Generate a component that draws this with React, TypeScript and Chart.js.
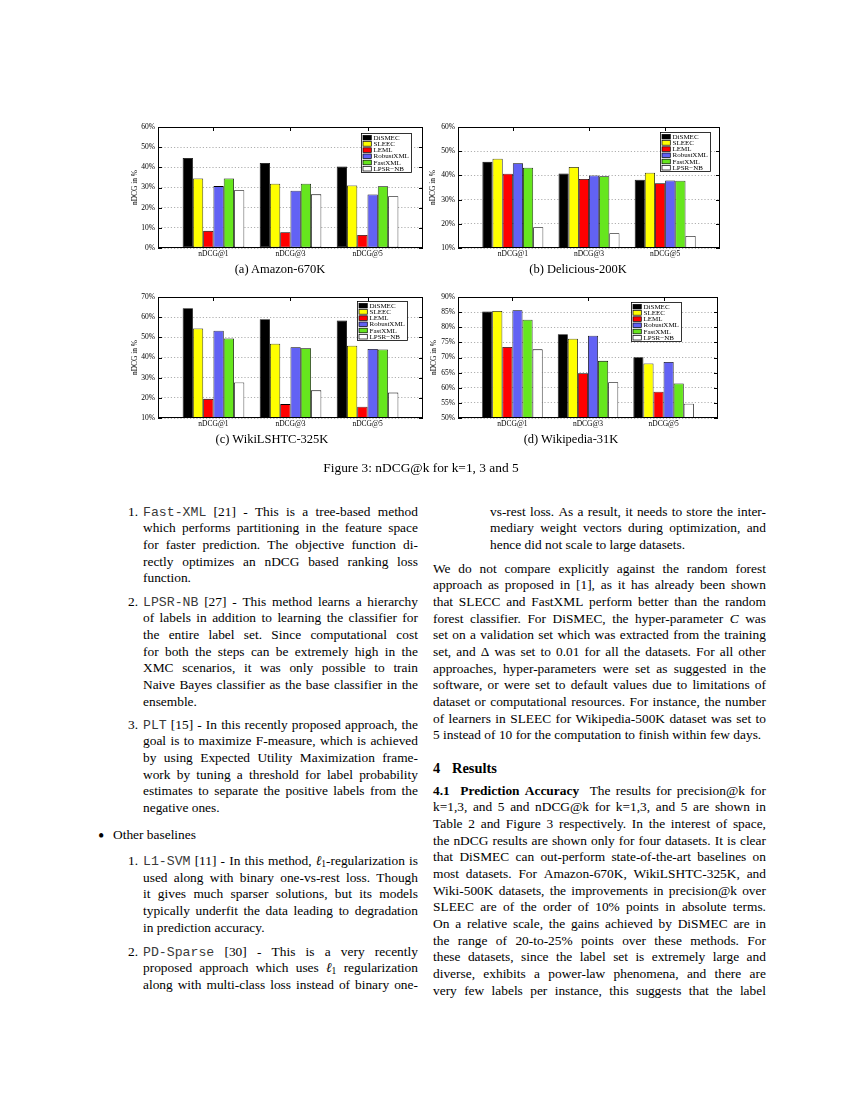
import React, { useEffect, useRef } from "react";
import { Chart, registerables } from "chart.js";

Chart.register(...registerables);

const SERIF = '"Liberation Serif", "Times New Roman", serif';
Chart.defaults.font.family = SERIF;
Chart.defaults.color = "#000";

// ---------- data ----------
const METHODS = ["DiSMEC", "SLEEC", "LEML", "RobustXML", "FastXML", "LPSR\u2212NB"];
const COLORS = ["#000000", "#ffff00", "#ff0000", "#6262f4", "#66e61e", "#ffffff"];
const CATEGORIES = ["nDCG@1", "nDCG@3", "nDCG@5"];

// rows follow METHODS order, columns follow CATEGORIES
const AMAZON_670K = [
  [44.6, 42.2, 40.4],
  [34.5, 31.9, 31.0],
  [8.5, 7.8, 6.5],
  [30.7, 28.4, 26.5],
  [34.5, 31.9, 30.6],
  [28.6, 26.6, 25.7],
];
const DELICIOUS_200K = [
  [45.6, 40.8, 38.2],
  [46.9, 43.5, 41.1],
  [40.7, 38.5, 36.8],
  [45.0, 40.0, 37.9],
  [43.2, 39.7, 37.8],
  [18.6, 16.1, 15.0],
];
const WIKILSHTC_325K = [
  [64.4, 59.0, 58.4],
  [54.4, 46.8, 45.8],
  [19.5, 16.9, 15.6],
  [53.3, 45.1, 44.2],
  [49.4, 44.6, 44.0],
  [27.6, 23.7, 22.6],
];
const WIKIPEDIA_31K = [
  [85.2, 77.7, 70.1],
  [85.4, 76.2, 68.0],
  [73.5, 64.8, 58.7],
  [85.6, 77.2, 68.5],
  [82.5, 68.9, 61.4],
  [72.7, 61.8, 54.7],
];
const AMAZON_Y = [0, 60, 10];
const DELICIOUS_Y = [10, 60, 10];
const WIKILSHTC_Y = [10, 70, 10];
const WIKIPEDIA_Y = [50, 90, 5];
const X_RANGE = [-0.72, 2.72];
const Y_TITLE = "nDCG in %";

// ---------- chart ----------
const CW = 312;
const CH = 146;

type Spec = {
  left: number;
  top: number;
  data: number[][];
  y: number[];
  padRight: number;
  legendLeft: number;
  legendTop: number;
  titleOffset: number;
};

function BarChart({ spec }: { spec: Spec }) {
  const ref = useRef<HTMLCanvasElement>(null);
  useEffect(() => {
    const canvas = ref.current!;
    const frame = {
      id: "gnuframe",
      afterDatasetsDraw(chart: any) {
        const { ctx, chartArea: a } = chart;
        const ys = chart.scales.y;
        const xs = chart.scales.x;
        ctx.save();
        ctx.strokeStyle = "#000";
        ctx.lineWidth = 1;
        ctx.strokeRect(a.left + 0.5, a.top + 0.5, a.right - a.left - 1, a.bottom - a.top - 1);
        // inner tick marks (left and mirrored right)
        ys.ticks.forEach((t: any) => {
          const py = Math.round(ys.getPixelForValue(t.value)) + 0.5;
          ctx.beginPath();
          ctx.moveTo(a.left, py);
          ctx.lineTo(a.left + 4, py);
          ctx.moveTo(a.right - 4, py);
          ctx.lineTo(a.right, py);
          ctx.stroke();
        });
        xs.ticks.forEach((t: any) => {
          const px = Math.round(xs.getPixelForValue(t.value)) + 0.5;
          ctx.beginPath();
          ctx.moveTo(px, a.top);
          ctx.lineTo(px, a.top + 4);
          ctx.stroke();
        });
        // key
        const lx = Math.round(a.right - spec.legendLeft) + 0.5;
        const ly = Math.round(a.top + spec.legendTop) + 0.5;
        const bw = 50;
        const bh = 39;
        ctx.fillStyle = "#fff";
        ctx.fillRect(lx, ly, bw, bh);
        ctx.lineWidth = 0.8;
        ctx.strokeRect(lx, ly, bw, bh);
        ctx.font = `7px ${SERIF}`;
        ctx.textAlign = "left";
        ctx.textBaseline = "middle";
        chart.data.datasets.forEach((ds: any, i: number) => {
          const cy = ly + 4.2 + i * 6.2;
          ctx.fillStyle = ds.backgroundColor;
          ctx.fillRect(lx + 1.5, cy - 2.3, 8.3, 4.6);
          ctx.strokeStyle = "#000";
          ctx.lineWidth = 0.7;
          ctx.strokeRect(lx + 1.5, cy - 2.3, 8.3, 4.6);
          ctx.fillStyle = "#000";
          ctx.fillText(ds.label, lx + 12, cy + 0.3);
        });
        // y title
        ctx.translate(a.left - spec.titleOffset, (a.top + a.bottom) / 2);
        ctx.rotate(-Math.PI / 2);
        ctx.textAlign = "center";
        ctx.textBaseline = "middle";
        ctx.font = `7.4px ${SERIF}`;
        ctx.fillText(Y_TITLE, 0, 0);
        ctx.restore();
      },
    };
    const chart = new Chart(canvas, {
      type: "bar",
      data: {
        datasets: METHODS.map((m, i) => ({
          label: m,
          data: spec.data[i].map((v, j) => ({ x: j, y: v })),
          backgroundColor: COLORS[i],
          borderColor: "#000",
          borderWidth: 0.8,
          borderSkipped: false,
          barPercentage: 1,
          categoryPercentage: 0.8,
        })),
      },
      options: {
        animation: false,
        responsive: false,
        layout: { padding: { left: 0, top: 9, right: spec.padRight, bottom: 0 } },
        plugins: { legend: { display: false }, tooltip: { enabled: false } },
        scales: {
          x: {
            type: "linear",
            offset: false,
            min: X_RANGE[0],
            max: X_RANGE[1],
            afterBuildTicks: (s: any) => {
              s.ticks = CATEGORIES.map((_, i) => ({ value: i }));
            },
            grid: { display: false, drawTicks: false, offset: false },
            border: { display: false },
            ticks: {
              font: { size: 7.5, family: SERIF },
              color: "#000",
              padding: 1.5,
              maxRotation: 0,
              autoSkip: false,
              callback: (v: any) => CATEGORIES[Math.round(v)] ?? "",
            },
            afterFit: (s: any) => {
              s.height = 16;
            },
          },
          y: {
            min: spec.y[0],
            max: spec.y[1],
            grid: { color: "#9c9c9c", lineWidth: 0.8, drawTicks: false, borderDash: [1.2, 2] },
            border: { display: false, dash: [1.2, 2] },
            ticks: {
              stepSize: spec.y[2],
              autoSkip: false,
              callback: (v: any) => v + "%",
              font: { size: 7.5, family: SERIF },
              color: "#000",
              padding: 3,
            },
            afterFit: (s: any) => {
              s.width = 40;
            },
          },
        },
      } as any,
      plugins: [frame],
    });
    return () => chart.destroy();
  }, [spec]);
  return (
    <canvas
      ref={ref}
      width={CW}
      height={CH}
      style={{ position: "absolute", left: spec.left, top: spec.top, width: CW, height: CH }}
    />
  );
}

const SPECS: Spec[] = [
  { left: 118, top: 118, data: AMAZON_670K, y: AMAZON_Y, padRight: 7, legendLeft: 62, legendTop: 6, titleOffset: 23 },
  { left: 418, top: 118, data: DELICIOUS_200K, y: DELICIOUS_Y, padRight: 10, legendLeft: 60, legendTop: 5, titleOffset: 25 },
  { left: 118, top: 288, data: WIKILSHTC_325K, y: WIKILSHTC_Y, padRight: 7, legendLeft: 66, legendTop: 4, titleOffset: 23 },
  { left: 418, top: 288, data: WIKIPEDIA_31K, y: WIKIPEDIA_Y, padRight: 12, legendLeft: 87, legendTop: 5, titleOffset: 24 },
];

const SUBCAPTIONS: [string, number, number][] = [
  ["(a) Amazon-670K", 280, 268],
  ["(b) Delicious-200K", 578, 268],
  ["(c) WikiLSHTC-325K", 272, 438],
  ["(d) Wikipedia-31K", 571, 438],
];

// ---------- text ----------
const FS = 13.4;
const LH = 16.7;
const MONO: React.CSSProperties = { fontFamily: '"Liberation Mono", monospace', fontSize: 13.2, color: "#3a3a3a" };
const TOKEN_RE = /\{m:([^}]*)\}|\{i:([^}]*)\}|\{l1\}|\*\*([^*]+)\*\*|\{q\}/g;

function renderWord(w: string, key: number) {
  const parts: React.ReactNode[] = [];
  let last = 0;
  let k = 0;
  let m: RegExpExecArray | null;
  const re = new RegExp(TOKEN_RE.source, "g");
  while ((m = re.exec(w))) {
    if (m.index > last) parts.push(w.slice(last, m.index));
    if (m[1] !== undefined) parts.push(<span key={k++} style={MONO}>{m[1]}</span>);
    else if (m[2] !== undefined) parts.push(<i key={k++}>{m[2]}</i>);
    else if (m[3] !== undefined) parts.push(<b key={k++}>{m[3]}</b>);
    else if (m[0] === "{l1}")
      parts.push(
        <span key={k++}>
          <i>ℓ</i>
          <span style={{ fontSize: 9.5, position: "relative", top: 2 }}>1</span>
        </span>
      );
    last = re.lastIndex;
  }
  if (last < w.length) parts.push(w.slice(last));
  return <span key={key}>{parts}</span>;
}

function Line({ text, justify }: { text: string; justify: boolean }) {
  const words = text.split(" ");
  if (justify)
    return (
      <div style={{ display: "flex", justifyContent: "space-between", whiteSpace: "nowrap", height: LH }}>
        {words.map((w, i) => renderWord(w, i))}
      </div>
    );
  return (
    <div style={{ whiteSpace: "nowrap", height: LH }}>
      {words.map((w, i) => (
        <React.Fragment key={i}>
          {i > 0 ? " " : ""}
          {renderWord(w, i)}
        </React.Fragment>
      ))}
    </div>
  );
}

type Block = { x: number; y: number; w: number; lines: string[]; lastJustified?: boolean; num?: string };

const BLOCKS: Block[] = [
  {
    x: 143, y: 511.5, w: 275, num: "1.",
    lines: [
      "{m:Fast-XML} [21] - This is a tree-based method",
      "which performs partitioning in the feature space",
      "for faster prediction. The objective function di-",
      "rectly optimizes an nDCG based ranking loss",
      "function.",
    ],
  },
  {
    x: 143, y: 601.5, w: 275, num: "2.",
    lines: [
      "{m:LPSR-NB} [27] - This method learns a hierarchy",
      "of labels in addition to learning the classifier for",
      "the entire label set. Since computational cost",
      "for both the steps can be extremely high in the",
      "XMC scenarios, it was only possible to train",
      "Naive Bayes classifier as the base classifier in the",
      "ensemble.",
    ],
  },
  {
    x: 143, y: 724.5, w: 275, num: "3.",
    lines: [
      "{m:PLT} [15] - In this recently proposed approach, the",
      "goal is to maximize F-measure, which is achieved",
      "by using Expected Utility Maximization frame-",
      "work by tuning a threshold for label probability",
      "estimates to separate the positive labels from the",
      "negative ones.",
    ],
  },
  {
    x: 143, y: 861, w: 275, num: "1.",
    lines: [
      "{m:L1-SVM} [11] - In this method, {l1}-regularization is",
      "used along with binary one-vs-rest loss. Though",
      "it gives much sparser solutions, but its models",
      "typically underfit the data leading to degradation",
      "in prediction accuracy.",
    ],
  },
  {
    x: 143, y: 951.5, w: 275, num: "2.", lastJustified: true,
    lines: [
      "{m:PD-Sparse} [30] - This is a very recently",
      "proposed approach which uses {l1} regularization",
      "along with multi-class loss instead of binary one-",
    ],
  },
  {
    x: 490, y: 511.5, w: 276,
    lines: [
      "vs-rest loss. As a result, it needs to store the inter-",
      "mediary weight vectors during optimization, and",
      "hence did not scale to large datasets.",
    ],
  },
  {
    x: 433, y: 568.5, w: 333,
    lines: [
      "We do not compare explicitly against the random forest",
      "approach as proposed in [1], as it has already been shown",
      "that SLECC and FastXML perform better than the random",
      "forest classifier. For DiSMEC, the hyper-parameter {i:C} was",
      "set on a validation set which was extracted from the training",
      "set, and \u0394 was set to 0.01 for all the datasets. For all other",
      "approaches, hyper-parameters were set as suggested in the",
      "software, or were set to default values due to limitations of",
      "dataset or computational resources. For instance, the number",
      "of learners in SLEEC for Wikipedia-500K dataset was set to",
      "5 instead of 10 for the computation to finish within few days.",
    ],
  },
  {
    x: 433, y: 790.5, w: 333, lastJustified: true,
    lines: [
      "**4.1** {q} **Prediction** **Accuracy** {q} The results for precision@k for",
      "k=1,3, and 5 and nDCG@k for k=1,3, and 5 are shown in",
      "Table 2 and Figure 3 respectively. In the interest of space,",
      "the nDCG results are shown only for four datasets. It is clear",
      "that DiSMEC can out-perform state-of-the-art baselines on",
      "most datasets. For Amazon-670K, WikiLSHTC-325K, and",
      "Wiki-500K datasets, the improvements in precision@k over",
      "SLEEC are of the order of 10% points in absolute terms.",
      "On a relative scale, the gains achieved by DiSMEC are in",
      "the range of 20-to-25% points over these methods. For",
      "these datasets, since the label set is extremely large and",
      "diverse, exhibits a power-law phenomena, and there are",
      "very few labels per instance, this suggests that the label",
    ],
  },
];

const CENTER_TO_TOP = 8;

export default function App() {
  return (
    <div
      style={{
        position: "absolute",
        left: 0,
        top: 0,
        width: 850,
        height: 1100,
        background: "#fff",
        fontFamily: SERIF,
        color: "#000",
        fontSize: FS,
        lineHeight: `${LH}px`,
        overflow: "hidden",
      }}
    >
      {SPECS.map((s, i) => (
        <BarChart key={i} spec={s} />
      ))}
      {SUBCAPTIONS.map(([t, cx, cy], i) => (
        <div
          key={i}
          style={{
            position: "absolute",
            left: cx,
            top: cy - 7.5,
            transform: "translateX(-50%)",
            whiteSpace: "nowrap",
            fontSize: 12.5,
            lineHeight: "16px",
          }}
        >
          {t}
        </div>
      ))}
      <div
        style={{
          position: "absolute",
          left: 421,
          top: 468 - CENTER_TO_TOP,
          transform: "translateX(-50%)",
          whiteSpace: "nowrap",
        }}
      >
        Figure 3: nDCG@k for k=1, 3 and 5
      </div>

      {BLOCKS.map((b, bi) => (
        <React.Fragment key={bi}>
          {b.num && (
            <div
              style={{
                position: "absolute",
                left: b.x - 35,
                top: b.y - CENTER_TO_TOP,
                width: 30,
                textAlign: "right",
              }}
            >
              {b.num}
            </div>
          )}
          <div style={{ position: "absolute", left: b.x, top: b.y - CENTER_TO_TOP, width: b.w }}>
            {b.lines.map((l, li) => (
              <Line key={li} text={l} justify={li < b.lines.length - 1 || !!b.lastJustified} />
            ))}
          </div>
        </React.Fragment>
      ))}

      <div
        style={{
          position: "absolute",
          left: 98,
          top: 835 - 9.5,
          fontSize: 18,
          lineHeight: "20px",
        }}
      >
        •
      </div>
      <div style={{ position: "absolute", left: 113, top: 835 - CENTER_TO_TOP }}>Other baselines</div>

      <div style={{ position: "absolute", left: 433, top: 768 - CENTER_TO_TOP, fontWeight: "bold", fontSize: 14.4 }}>
        4
      </div>
      <div style={{ position: "absolute", left: 452, top: 768 - CENTER_TO_TOP, fontWeight: "bold", fontSize: 14.4 }}>
        Results
      </div>
    </div>
  );
}
